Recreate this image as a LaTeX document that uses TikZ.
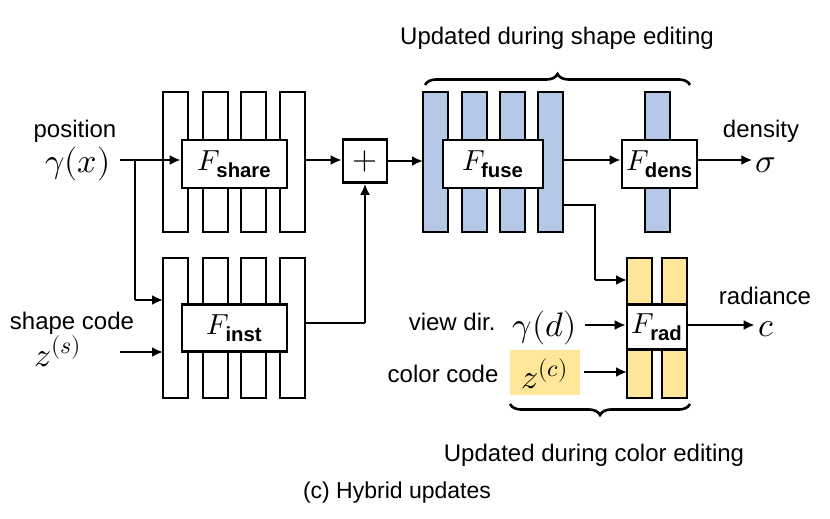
\documentclass[tikz,border=0pt]{standalone}
\usepackage{fontspec}
\setmainfont{Liberation Sans}
\usepackage{unicode-math}
\setmathfont{Latin Modern Math}
\usetikzlibrary{decorations.pathreplacing,arrows.meta}
\begin{document}
\begin{tikzpicture}[x=1pt,y=-1pt,
 bar/.style={draw,line width=2.6pt},
 fbox/.style={draw,line width=2.6pt,fill=white},
 ar/.style={line width=2.6pt,-{Latex[length=11pt,width=10pt]}},
 ln/.style={line width=2.6pt},
 lab/.style={font=\fontsize{24}{28}\selectfont},
 mth/.style={font=\fontsize{34}{38}\selectfont},
 fl/.style={font=\fontsize{29}{30}\selectfont},
 br/.style={line width=2.6pt,decorate,decoration={brace,amplitude=11pt}}]
\useasboundingbox (0,0) rectangle (830,519);
\definecolor{bl}{HTML}{B4C7E7}\definecolor{yl}{HTML}{FFE699}
% left bars
\foreach \x in {163,203,241,280}{
 \draw[bar] (\x,92) rectangle ++(25,140);
 \draw[bar] (\x,258) rectangle ++(25,140);}
\node[fbox,fl,minimum width=105pt,minimum height=48pt,inner sep=0pt] (sh) at (234.5,164) {$F_{\mathbf{share}}$};
\node[fbox,fl,minimum width=105pt,minimum height=47pt,inner sep=0pt] (in) at (234.5,328) {$F_{\mathbf{inst}}$};
\node[fbox,minimum width=44pt,minimum height=43pt,inner sep=0pt,font=\fontsize{32}{34}\selectfont] (pl) at (365,161) {$+$};
% fuse bars
\foreach \x in {423,462,500,538}{\draw[bar,fill=bl] (\x,92) rectangle ++(25,140);}
\node[fbox,fl,minimum width=100pt,minimum height=48pt,inner sep=0pt] (fu) at (493,164) {$F_{\mathbf{fuse}}$};
\draw[bar,fill=bl] (645,92) rectangle ++(25,140);
\node[fbox,fl,minimum width=75pt,minimum height=48pt,inner sep=0pt] (de) at (659.5,164) {$F_{\mathbf{dens}}$};
\foreach \x in {627,662}{\draw[bar,fill=yl] (\x,258) rectangle ++(25,140);}
\node[fbox,fl,minimum width=60pt,minimum height=45pt,inner sep=0pt] (ra) at (657,327) {$F_{\mathbf{rad}}$};
% inputs
\node[lab] (pos) at (75,131) {position};
\node[mth,anchor=base] (gx) at (78,172) {$\gamma(x)$};
\node[lab] (shc) at (72,323) {shape code};
\node[mth,anchor=base] (zs) at (58,366) {$z^{(s)}$};
\coordinate (j1) at (135,160);
\coordinate (i1) at (163,300);
\coordinate (i2) at (163,352);
\draw[ar] (120,160) -- (sh.west|-j1);
\draw[ln] (j1) -- (j1|-i1);
\draw[ar] (j1|-i1) -- (i1);
\draw[ar] (120,352) -- (i2);
\draw[ar] (305,160) -- (pl.west|-0,160);
\draw[ln] (305,323) -- (365,323);
\draw[ar] (365,323) -- (pl.south);
\draw[ar] (pl.east) -- (423,161);
\draw[ar] (563,160) -- (de.west|-0,160);
\node[lab] (dn) at (761,131) {density};
\node[mth,anchor=base] (sg) at (766,172) {$\sigma$};
\draw[ar] (de.east|-0,160) -- (sg.west|-0,160);
\draw[ln] (563,205) -- (595,205) -- (595,280);
\draw[ar] (595,280) -- (627,280);
\node[lab,anchor=east] (vd) at (499,322) {view dir.};
\node[mth,anchor=base] (gd) at (545,336) {$\gamma(d)$};
\draw[ar] (585,325) -- (ra.west|-0,325);
\node[lab,anchor=east] (cc) at (502,374) {color code};
\node[fill=yl,minimum width=70pt,minimum height=45pt,inner sep=0pt] (zc) at (545,372) {};
\node[mth] at (545,374) {$z^{(c)}$};
\draw[ar] (584,372) -- (627,372);
\node[lab] (rd) at (765,296) {radiance};
\node[mth,anchor=base] (cv) at (766,336) {$c$};
\draw[ar] (ra.east|-0,325) -- (cv.west|-0,325);
% braces
\draw[br] (425,85) -- (690,85);
\node[font=\fontsize{24}{28}\selectfont] at (557,38) {Updated during shape editing};
\draw[br] (690,404) -- (510,404);
\node[font=\fontsize{24}{28}\selectfont] at (594,455) {Updated during color editing};
\node[font=\fontsize{23}{26}\selectfont] at (397,493) {(c) Hybrid updates};
\end{tikzpicture}
\end{document}
